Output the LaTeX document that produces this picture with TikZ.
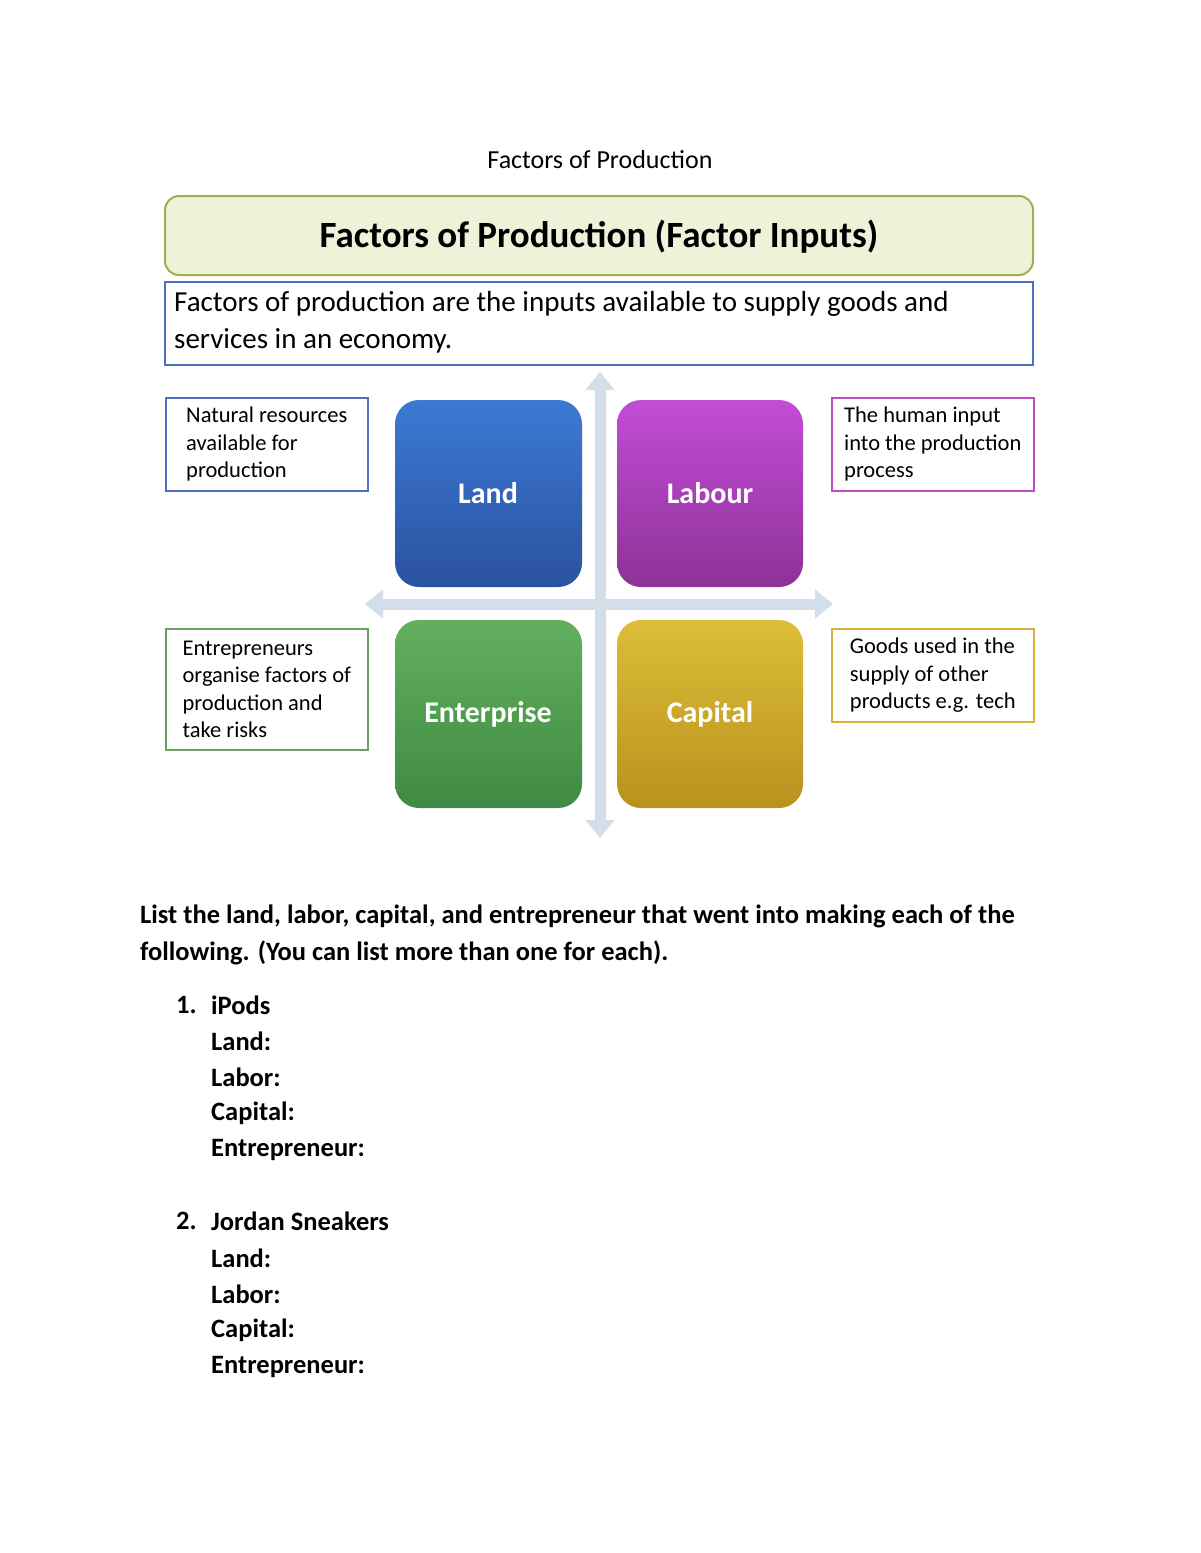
\documentclass[tikz,border=0pt]{standalone}
\usepackage{fontspec}
\setmainfont{Carlito}
\usetikzlibrary{arrows.meta}
\definecolor{hdrfill}{HTML}{EEF2D9}
\definecolor{hdrdraw}{HTML}{9BAF55}
\definecolor{bluedraw}{HTML}{4F6FC0}
\definecolor{arrowc}{HTML}{D3DEEA}
\definecolor{landT}{HTML}{3C7AD4}\definecolor{landB}{HTML}{2A52A0}
\definecolor{labT}{HTML}{C24DD6}\definecolor{labB}{HTML}{8E3296}
\definecolor{entT}{HTML}{62B05E}\definecolor{entB}{HTML}{3E8A44}
\definecolor{capT}{HTML}{DDBD38}\definecolor{capB}{HTML}{B8921E}
\definecolor{magdraw}{HTML}{C04AC4}
\definecolor{grndraw}{HTML}{6AA060}
\definecolor{golddraw}{HTML}{D6B23A}
\begin{document}
\begin{tikzpicture}[x=1pt,y=-1pt,
  sq/.style={rounded corners=24pt,draw=none},
  sqlab/.style={text=white,font=\fontsize{30}{34}\selectfont\bfseries},
  side/.style={draw,line width=1.6pt,anchor=north west,minimum width=202pt,align=left,inner xsep=9pt,inner ysep=6pt,font=\fontsize{22.5}{27.5}\selectfont},
  bodyt/.style={anchor=west,font=\fontsize{26.5}{30}\selectfont\bfseries,inner sep=0pt},
  dbl/.style={arrowc,line width=11pt,-{Triangle[length=18pt,width=28pt]}}]
\useasboundingbox (0,0) rectangle (1200,1553);
\fill[white] (0,0) rectangle (1200,1553);
\node (title) at (600,160) {\fontsize{26}{30}\selectfont Factors of Production};
\draw[hdrdraw,fill=hdrfill,line width=2pt,rounded corners=14pt] (165,196) rectangle (1033,275);
\node (hdr) at (599,237) {\fontsize{37}{42}\selectfont\bfseries Factors of Production (Factor Inputs)};
\draw[bluedraw,line width=2pt] (165,282) rectangle (1033,365);
\node[anchor=north west,align=left,inner sep=0pt,font=\fontsize{29}{37}\selectfont] (def) at (174,291) {Factors of production are the inputs available to supply goods and\\services in an economy.};
% arrows
\coordinate (vc) at (600,604);
\coordinate (vt) at (600,372);
\coordinate (vb) at (600,838);
\coordinate (hl) at (365,604);
\coordinate (hr) at (833,604);
\draw[dbl] (vc) -- (vt);
\draw[dbl] (vc) -- (vb);
\draw[dbl] (vc) -- (hl);
\draw[dbl] (vc) -- (hr);
% squares
\shade[sq,top color=landT,bottom color=landB] (395,400) rectangle (582,587);
\node[sqlab] (land) at (488,493) {Land};
\shade[sq,top color=labT,bottom color=labB] (617,400) rectangle (803,587);
\node[sqlab] (labour) at (710,493) {Labour};
\shade[sq,top color=entT,bottom color=entB] (395,620) rectangle (582,808);
\node[sqlab] (ent) at (488,714) {Enterprise};
\shade[sq,top color=capT,bottom color=capB] (617,620) rectangle (803,808);
\node[sqlab] (cap) at (710,714) {Capital};
% side boxes
\node[side,draw=bluedraw,minimum height=93pt] (s1) at (165,397) {Natural resources\\available for\\production};
\node[side,draw=magdraw,minimum height=93pt] (s2) at (831,397) {The human input\\into the production\\process};
\node[side,draw=grndraw,minimum height=121pt] (s3) at (165,628) {Entrepreneurs\\organise factors of\\production and\\take risks};
\node[side,draw=golddraw,minimum height=93pt] (s4) at (831,628) {Goods used in the\\supply of other\\products e.g. tech};
% lower text
\node[bodyt] (q1) at (140,916) {List the land, labor, capital, and entrepreneur that went into making each of the};
\node[bodyt] (q2) at (140,953) {following. (You can list more than one for each).};
\node[bodyt] (n1) at (176,1005) {1.};
\node[bodyt] (i1) at (211,1005) {iPods};
\node[bodyt] (a1) at (211,1041) {Land:};
\node[bodyt] (b1) at (211,1077) {Labor:};
\node[bodyt] (c1) at (211,1113) {Capital:};
\node[bodyt] (d1) at (211,1150) {Entrepreneur:};
\node[bodyt] (n2) at (176,1221) {2.};
\node[bodyt] (i2) at (211,1221) {Jordan Sneakers};
\node[bodyt] (a2) at (211,1258) {Land:};
\node[bodyt] (b2) at (211,1294) {Labor:};
\node[bodyt] (c2) at (211,1330) {Capital:};
\node[bodyt] (d2) at (211,1367) {Entrepreneur:};
\end{tikzpicture}
\end{document}
